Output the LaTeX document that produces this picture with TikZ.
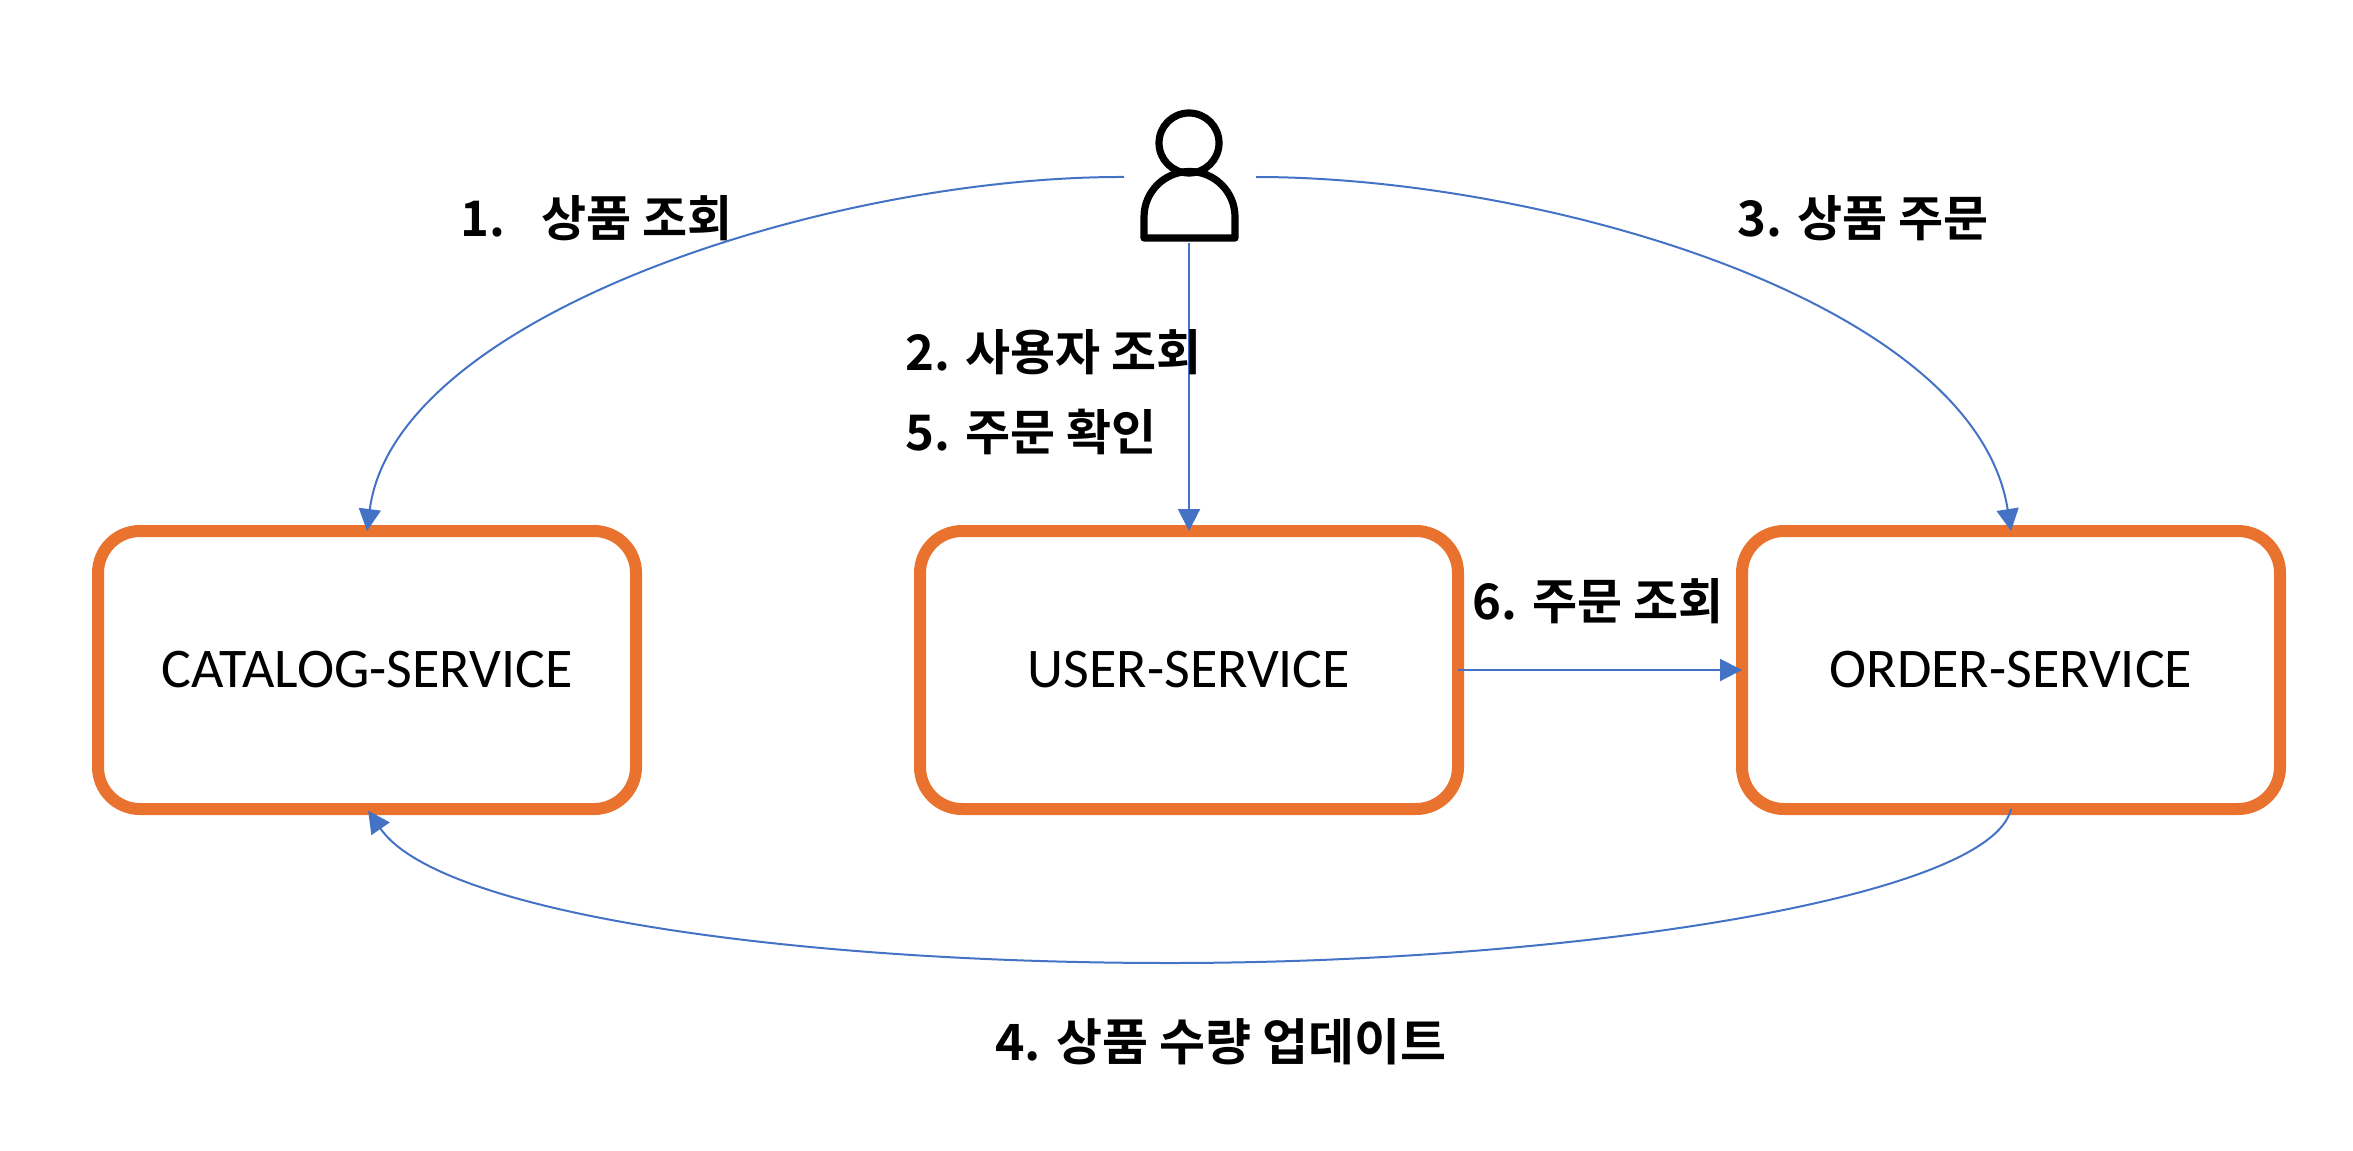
\documentclass[tikz,border=0pt]{standalone}
\usepackage{fontspec}
\setmainfont{Carlito}
\newfontfamily\korean{Noto Sans CJK KR}[BoldFont={Noto Sans CJK KR Bold}]
\usetikzlibrary{arrows.meta}
\definecolor{svcorange}{HTML}{E9722E}
\definecolor{flowblue}{HTML}{4472C4}

\begin{document}
\begin{tikzpicture}[x=0.5pt,y=-0.5pt]
% styles
\tikzstyle{service}=[rectangle,draw=svcorange,line width=6pt,rounded corners=21pt,outer sep=0pt,minimum width=269pt,minimum height=139pt,font=\fontsize{28}{32}\selectfont,fill=white]
\tikzstyle{flow}=[draw=flowblue,line width=1pt,-{Triangle[length=11pt,width=11pt]}]
\tikzstyle{steplabel}=[font=\korean\bfseries\fontsize{24.5}{28}\selectfont,inner sep=0pt]
\tikzstyle{icon}=[draw=black,line width=3.6pt,line join=round]
\useasboundingbox (0,0) rectangle (2353,1150);
% the nodes
\node[service] (catalog) at (367,670) {CATALOG-SERVICE};
\node[service] (user) at (1189,670) {USER-SERVICE};
\node[service] (order) at (2011,670) {ORDER-SERVICE};
% the person
\node[circle,icon,minimum size=30pt,inner sep=0pt,outer sep=0pt] (head) at (1189,143) {};
\draw[icon] (1144,238) -- (1144,217) arc[start angle=180,end angle=360,radius=45.5] -- (1235,238) -- cycle;
\coordinate (personleft) at (1124,177);
\coordinate (personright) at (1256,177);
\coordinate (personfoot) at (1189,243);
% the arrows
\draw[flow] (personleft) .. controls (830,176) and (395,315) .. (catalog.north);
\draw[flow] (personright) .. controls (1540,177) and (1975,300) .. (order.north);
\draw[flow] (personfoot) -- (user.north);
\draw[flow] (user.east) -- (order.west);
\draw[flow,shorten >=1pt] (order.south) .. controls (1990,900) and (1560,963) .. (1170,963) .. controls (800,963) and (440,915) .. (catalog.south);
% the labels
\node[steplabel,anchor=west] (find) at (460,218) {1.\hspace{18pt}상품 조회};
\node[steplabel,anchor=west] (buy) at (1737,218) {3. 상품 주문};
\node[steplabel,anchor=west] (who) at (905,352) {2. 사용자 조회};
\node[steplabel,anchor=west] (check) at (905,432) {5. 주문 확인};
\node[steplabel,anchor=west] (query) at (1472,601) {6. 주문 조회};
\node[steplabel,anchor=west,font=\korean\bfseries\fontsize{25}{28}\selectfont] (stock) at (995,1042) {4. 상품 수량 업데이트};
\end{tikzpicture}
\end{document}
